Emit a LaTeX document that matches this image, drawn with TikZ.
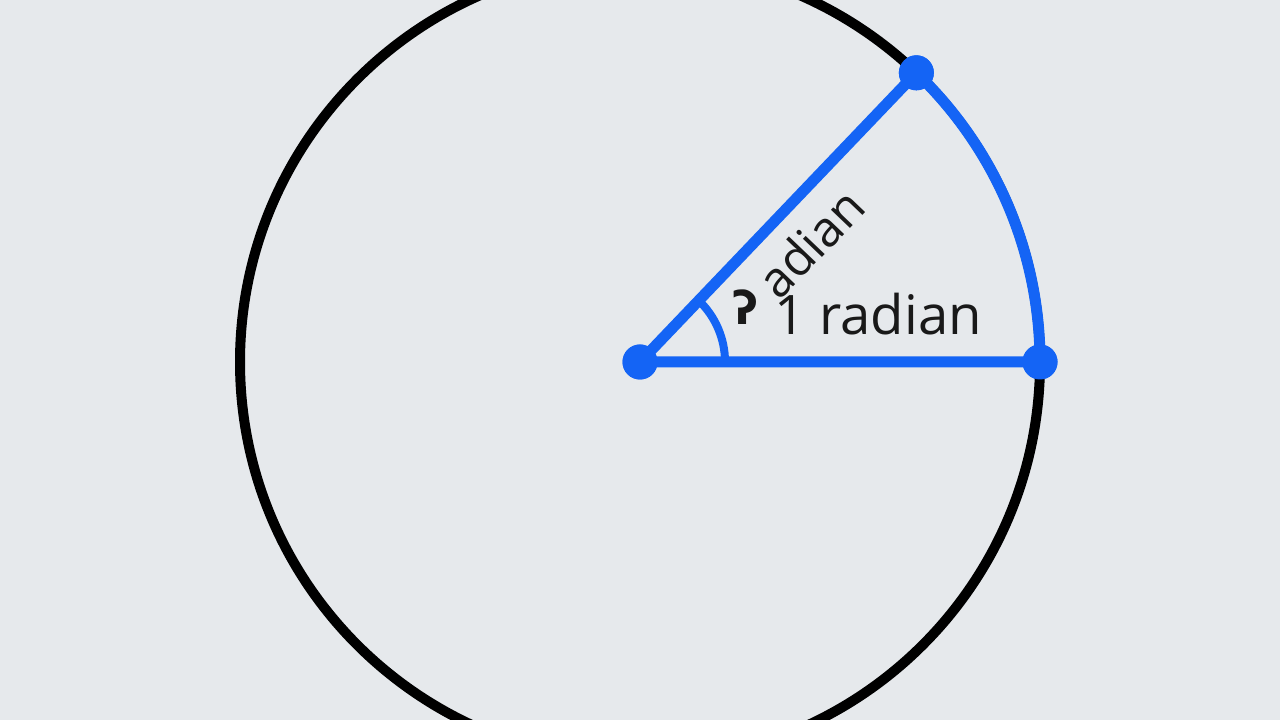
\documentclass[tikz,border=0pt]{standalone}
\usepackage{fontspec}
\setmainfont{Open Sans}
\newfontfamily\glyphfont{DejaVu Sans}
\usetikzlibrary{calc}
\definecolor{bgcol}{HTML}{E6E9EC}
\definecolor{radblue}{HTML}{1464F5}
\tikzset{
    ring/.style = {draw=black, line width=1mm},
    side/.style = {draw=radblue, line width=1.1mm},
    dot/.style = {circle, fill=radblue, inner sep=0pt, minimum size=3.5mm},
    angmark/.style = {draw=radblue, line width=0.8mm},
    lbl/.style = {text=black!90, font=\fontsize{15.5}{18}\selectfont, inner sep=0pt}
}
\begin{document}
\begin{tikzpicture}
                \useasboundingbox[fill=bgcol] (0,0) rectangle (12.8,7.2);
                \clip (0,0) rectangle (12.8,7.2);
                \node[dot] (o) at (6.4,3.58) {};
                \node[dot] (a) at ($(o)+(0:4)$) {};
                \node[dot] (b) at ($(o)+(46.3:4)$) {};
                \draw[ring] (o.center) circle (4);
                \draw[angmark] ($(o)+(0:0.85)$) arc (0:46.3:0.85);
                \draw[side] (a.center) -- (o.center) -- (b.center);
                \draw[side] (a.center) arc (0:46.3:4);
                \node[dot] at (o) {};
                \node[dot] at (a) {};
                \node[dot] at (b) {};
                \node[lbl, font=\fontsize{14}{16}\selectfont, rotate=46.3] (r1) at ($(o)+(46.3:2.04)+(-43.7:0.41)$) {adian};
                \node[lbl] (r2) at (8.78,4.06) {1 radian};
                \node[lbl, font=\glyphfont\bfseries\fontsize{13}{15}\selectfont] (q) at (7.46,4.13) {ʔ};
            \end{tikzpicture}
\end{document}
